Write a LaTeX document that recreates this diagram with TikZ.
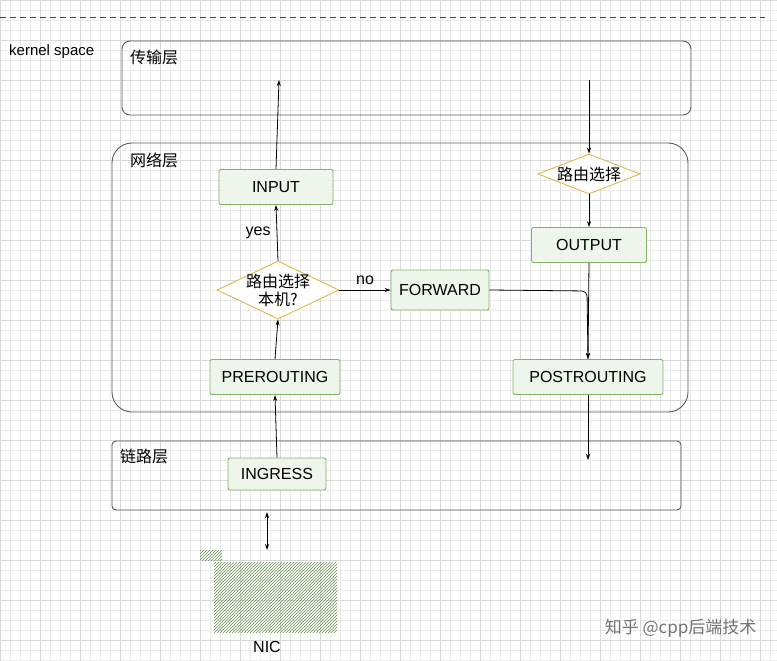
\documentclass[tikz,border=0pt]{standalone}
\usepackage{fontspec}
\setmainfont{Liberation Sans}
\newfontfamily\cjk{Noto Sans CJK SC}
\usetikzlibrary{shapes.geometric,arrows.meta,patterns}
\definecolor{gbord}{HTML}{82B366}
\definecolor{gfill}{HTML}{EEF5EA}
\definecolor{ybord}{HTML}{E0B84A}
\tikzset{
 lay/.style={draw=black!65,rounded corners=8pt,line width=0.9pt},
 gbox/.style={draw=gbord,fill=gfill,rounded corners=2pt,line width=0.9pt,font=\fontsize{16}{18}\selectfont,inner sep=0pt},
 dia/.style={diamond,draw=ybord,fill=white,line width=0.9pt,inner sep=0pt},
 dtxt/.style={font=\cjk\fontsize{16}{18}\selectfont,align=center,inner sep=0pt},
 arr/.style={-{Stealth[length=6pt,width=4pt]},line width=0.8pt},
 lbl/.style={font=\fontsize{16}{18}\selectfont,inner sep=0pt},
 clbl/.style={font=\cjk\fontsize{16}{18}\selectfont,inner sep=0pt,anchor=west}
}
\begin{document}
\begin{tikzpicture}[x=1pt,y=-1pt]
\useasboundingbox (0,0) rectangle (777,661);
\fill[white] (0,0) rectangle (777,661);
\foreach \i in {0,10,...,780} {\draw[black!8,line width=0.4pt] (\i,0) -- (\i,661);}
\foreach \i in {0,10,...,660} {\draw[black!8,line width=0.4pt] (0,\i) -- (777,\i);}
\foreach \i in {0,40,...,780} {\draw[black!15,line width=0.5pt] (\i,0) -- (\i,661);}
\foreach \i in {0,40,...,660} {\draw[black!15,line width=0.5pt] (0,\i) -- (777,\i);}
\draw[black!75,dash pattern=on 6pt off 4pt,line width=1pt] (0,18) -- (765,18);
\node[lbl,anchor=west,font=\fontsize{15}{17}\selectfont] (ks) at (9,52) {kernel space};
% layers
\draw[lay] (122,41) rectangle (691,115);
\node[clbl] (t1) at (130,57) {传输层};
\draw[lay,rounded corners=20pt] (112,143) rectangle (688,412);
\node[clbl] (t2) at (130,160) {网络层};
\draw[lay,rounded corners=4pt] (112,441) rectangle (681,510);
\node[clbl] (t3) at (120,456) {链路层};
% nodes
\node[gbox,minimum width=114,minimum height=35] (input) at (276,187) {INPUT};
\node[dia,minimum width=122,minimum height=58] (d1) at (278,290) {};
\node[dtxt] (d1t) at (278,290) {路由选择\\本机?};
\node[gbox,minimum width=98,minimum height=40] (fwd) at (440,290) {FORWARD};
\node[gbox,minimum width=130,minimum height=35] (pre) at (275,377) {PREROUTING};
\node[gbox,minimum width=98,minimum height=32] (ing) at (277,474) {INGRESS};
\node[dia,minimum width=102,minimum height=40] (d2) at (589,174) {};
\node[dtxt] (d2t) at (589,174) {路由选择};
\node[gbox,minimum width=115,minimum height=35] (out) at (589,245) {OUTPUT};
\node[gbox,minimum width=150,minimum height=35] (post) at (588,377) {POSTROUTING};
\coordinate (up) at (279,80);
\coordinate (tdown) at (589,80);
\coordinate (pdown) at (588,460);
\coordinate (nt) at (267,512);
\coordinate (nb) at (267,550);
% arrows
\draw[arr] (ing.north) -- (pre.south);
\draw[arr] (pre.north) -- (d1.south);
\draw[arr] (d1.north) -- node[lbl,left=6pt] (yes) {yes} (input.south);
\draw[arr] (input.north) -- (up);
\draw[arr] (d1.east) -- node[lbl,above=5pt] (no) {no} (fwd.west);
\draw[arr] (tdown) -- (d2.north);
\draw[arr] (d2.south) -- (out.north);
\draw[arr] (out.south) -- (post.north);
\draw[arr,rounded corners=5pt] (fwd.east) -- (587,291) -- (post.north);
\draw[arr] (post.south) -- (pdown);
\draw[{Stealth[length=6pt,width=4pt]}-{Stealth[length=6pt,width=4pt]},line width=1pt] (nt) -- (nb);
% NIC
\fill[pattern=north east lines,pattern color=gbord!80!black] (214,562) rectangle (337,632);
\fill[pattern=north east lines,pattern color=gbord!80!black] (200,550) rectangle (222,560);
\node[lbl] (nic) at (267,647) {NIC};
\node[font=\cjk\fontsize{17}{19}\selectfont,text=black!55,anchor=east] (wm) at (760,628) {知乎 @cpp后端技术};
\end{tikzpicture}
\end{document}
